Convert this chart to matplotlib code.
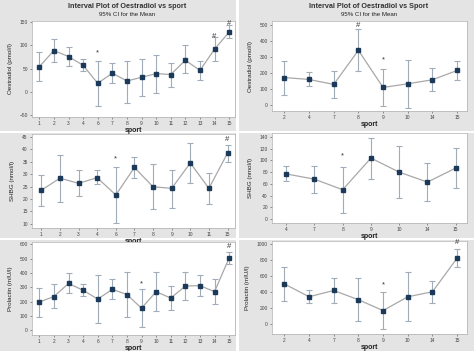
import numpy as np
import matplotlib.pyplot as plt
from matplotlib.patches import Rectangle

plt.rcParams['font.family'] = ['Liberation Sans', 'DejaVu Sans']

# 数据: 每个面板的类别, 均值, 95% CI 上下限
oe_l_sport = ['1', '2', '3', '4', '6', '7', '8', '9', '10', '11', '12', '13', '14', '15']
oe_l_mean = [54, 89, 76, 57, 18, 40, 23, 31, 39, 37, 68, 46, 92, 129]
oe_l_hi = [85, 114, 97, 70, 67, 63, 67, 70, 80, 63, 100, 67, 119, 144]
oe_l_lo = [24, 65, 55, 44, -31, 18, -24, -9, -2, 11, 40, 25, 66, 117]

oe_r_sport = ['2', '4', '7', '8', '9', '10', '14', '15']
oe_r_mean = [172, 160, 129, 342, 110, 133, 158, 216]
oe_r_hi = [276, 205, 210, 477, 224, 282, 232, 276]
oe_r_lo = [64, 122, 46, 212, -4, -19, 85, 156]

shbg_l_sport = ['1', '2', '3', '4', '6', '7', '8', '9', '10', '11', '15']
shbg_l_mean = [23.5, 28.4, 26.3, 28.6, 21.6, 32.7, 24.9, 24.3, 34.5, 24.3, 38.5]
shbg_l_hi = [29.5, 37.8, 31.8, 31.8, 33.0, 36.8, 34.0, 31.8, 42.5, 30.5, 41.9]
shbg_l_lo = [17.3, 18.7, 21.2, 26.0, 10.5, 28.4, 15.8, 16.3, 26.3, 17.9, 35.0]

shbg_r_sport = ['4', '7', '8', '9', '10', '14', '15']
shbg_r_mean = [77, 68, 50, 104, 80, 63, 87]
shbg_r_hi = [90, 91, 88, 139, 125, 96, 121]
shbg_r_lo = [65, 45, 10, 69, 36, 30, 53]

pro_l_sport = ['1', '2', '3', '4', '6', '7', '8', '9', '10', '11', '12', '13', '14', '15']
pro_l_mean = [196, 235, 326, 279, 217, 285, 249, 153, 269, 224, 308, 311, 269, 505]
pro_l_hi = [297, 320, 399, 324, 384, 358, 406, 285, 404, 308, 406, 384, 358, 548]
pro_l_lo = [94, 153, 258, 237, 52, 215, 94, 25, 132, 139, 212, 240, 183, 463]

pro_r_sport = ['2', '4', '7', '8', '9', '10', '14', '15']
pro_r_mean = [500, 340, 418, 303, 168, 340, 402, 820]
pro_r_hi = [713, 418, 574, 570, 398, 643, 541, 939]
pro_r_lo = [291, 262, 262, 41, -61, 41, 262, 705]

W, H = 474, 351
fig = plt.figure(figsize=(W / 100, H / 100), dpi=100)
fig.patch.set_facecolor('white')

# 灰色面板背景 (Minitab 风格)
panel_gray = '#e4e4e4'
for (x0, x1) in [(0, 236), (239, 474)]:
    for (y0, y1) in [(0, 131), (133, 238), (240, 351)]:
        fig.add_artist(Rectangle((x0 / W, 1 - y1 / H), (x1 - x0) / W, (y1 - y0) / H,
                                 transform=fig.transFigure, facecolor=panel_gray,
                                 edgecolor='none', zorder=-10))


def make_ax(px_left, px_right, px_top, px_bottom):
    return fig.add_axes([px_left / W, 1 - px_bottom / H,
                         (px_right - px_left) / W, (px_bottom - px_top) / H])


def interval_plot(ax, sport, mean, lo, hi, ylabel, yticks, ylim, marks):
    x = np.arange(len(sport))
    mean = np.array(mean)
    err = [mean - np.array(lo), np.array(hi) - mean]
    ax.plot(x, mean, color='#a8a8a8', lw=0.9, zorder=2)
    ax.errorbar(x, mean, yerr=err, fmt='none', ecolor='#a0acb8', elinewidth=0.8,
                capsize=2.2, capthick=0.8, zorder=3)
    ax.plot(x, mean, 's', color='#1b3a5a', ms=3.2, zorder=4)
    for idx, sym, yy in marks:
        ax.text(idx, yy, sym, ha='center', va='center', fontsize=5.5, color='#333333')
    ax.set_xticks(x)
    ax.set_xticklabels(sport)
    ax.set_yticks(yticks)
    ax.set_ylim(ylim)
    ax.set_xlim(-0.5, len(sport) - 0.6)
    ax.tick_params(labelsize=3.5, length=1.5, width=0.4, colors='#444444', pad=1.5)
    ax.set_ylabel(ylabel, fontsize=4.5, labelpad=5, color='#222222')
    ax.set_xlabel('sport', fontsize=5, labelpad=0.5, color='#222222',
                  fontweight='bold')
    for s in ax.spines.values():
        s.set_color('#b0b0b0')
        s.set_linewidth(0.5)
    ax.set_facecolor('white')


ax1 = make_ax(32, 235, 21, 117)
interval_plot(ax1, oe_l_sport, oe_l_mean, oe_l_lo, oe_l_hi, 'Oestradiol (pmol/l)',
              [-50, 0, 50, 100, 150], (-55, 153),
              [(4, '*', 83), (12, '#', 120), (13, '#', 148)])

ax2 = make_ax(272, 467, 21, 111)
interval_plot(ax2, oe_r_sport, oe_r_mean, oe_r_lo, oe_r_hi, 'Oestradiol (pmol/l)',
              [0, 100, 200, 300, 400, 500], (-37, 525),
              [(3, '#', 500), (4, '*', 280)])

for cx, ttl in [(127 / W, 'Interval Plot of Oestradiol vs sport'),
                (369 / W, 'Interval Plot of Oestradiol vs Sport')]:
    fig.text(cx, 1 - 7 / H, ttl, ha='center', va='center', fontsize=5.2,
             fontweight='bold', color='#333333')
    fig.text(cx, 1 - 15 / H, '95% CI for the Mean', ha='center', va='center',
             fontsize=4.4, color='#222222')

ax3 = make_ax(32, 235, 134, 228)
interval_plot(ax3, shbg_l_sport, shbg_l_mean, shbg_l_lo, shbg_l_hi, 'SHBG (nmol/l)',
              [10, 15, 20, 25, 30, 35, 40, 45], (8.3, 46.2),
              [(4, '*', 36), (10, '#', 44)])

ax4 = make_ax(272, 467, 133, 223)
interval_plot(ax4, shbg_r_sport, shbg_r_mean, shbg_r_lo, shbg_r_hi, 'SHBG (nmol/l)',
              [0, 20, 40, 60, 80, 100, 120, 140], (-6.7, 146.7),
              [(2, '*', 107)])

ax5 = make_ax(32, 235, 242, 335)
interval_plot(ax5, pro_l_sport, pro_l_mean, pro_l_lo, pro_l_hi, 'Prolactin (mIU/l)',
              [0, 100, 200, 300, 400, 500, 600], (-34, 616),
              [(7, '*', 320), (13, '#', 585)])

ax6 = make_ax(272, 467, 241, 334)
interval_plot(ax6, pro_r_sport, pro_r_mean, pro_r_lo, pro_r_hi, 'Prolactin (mIU/l)',
              [0, 200, 400, 600, 800, 1000], (-123, 1033),
              [(4, '*', 490), (7, '#', 1010)])

plt.savefig('out.png', dpi=100)
